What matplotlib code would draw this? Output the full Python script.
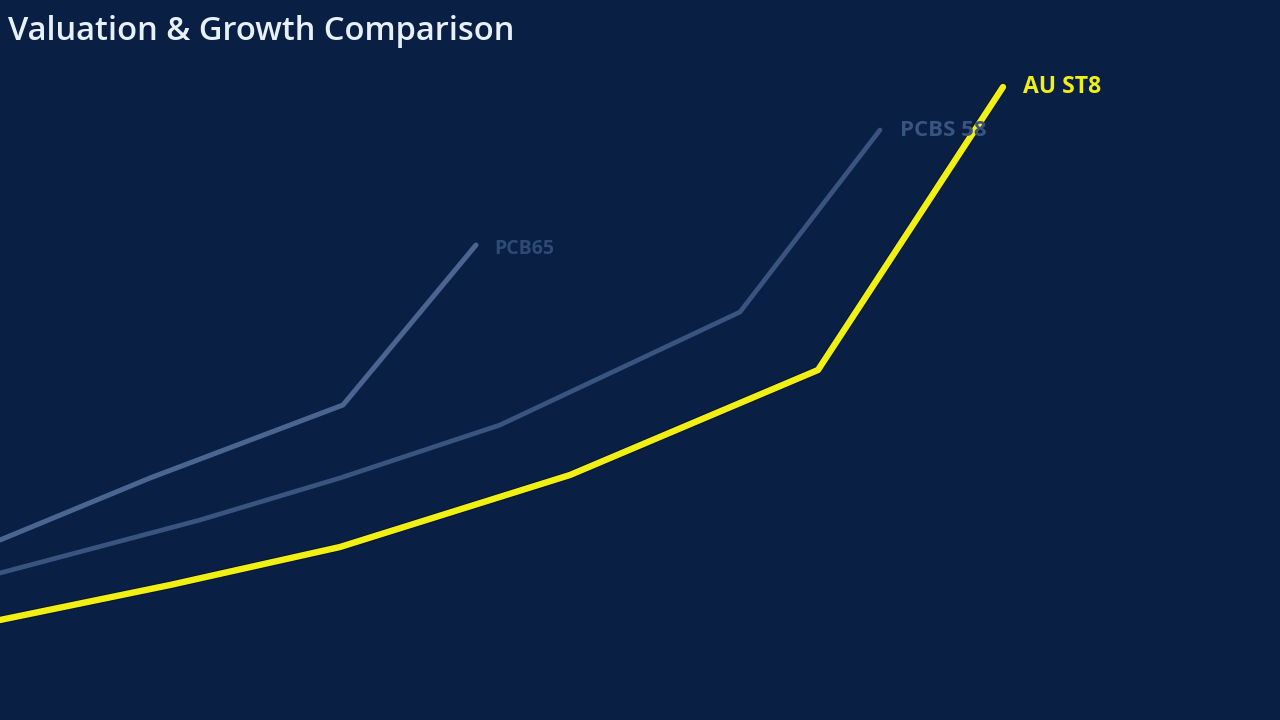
import matplotlib
matplotlib.use("Agg")
import matplotlib.pyplot as plt
import matplotlib.patheffects as pe

# Series data (x = period position, y = value)
au_x = [0, 170, 340, 570, 818, 1003]
au_y = [100, 135, 173, 245, 350, 633]
mid_x = [0, 200, 340, 500, 740, 880]
mid_y = [147, 200, 242, 295, 408, 590]
light_x = [0, 150, 343, 476]
light_y = [180, 242, 315, 475]

labels = ["AU ST8", "PCBS 58", "PCB65"]
title = "Valuation & Growth Comparison"

bg = "#0a1f44"
yellow = "#f0f014"
mid_c = "#3a5480"
light_c = "#4a6690"

fig = plt.figure(figsize=(12.8, 7.2), dpi=100)
fig.patch.set_facecolor(bg)
ax = fig.add_axes([0, 0, 1, 1])
ax.set_facecolor(bg)
ax.set_xlim(0, 1280)
ax.set_ylim(0, 720)
ax.axis("off")

ax.plot(light_x, light_y, color=light_c, lw=3.6, solid_capstyle="round", solid_joinstyle="round")
ax.plot(mid_x, mid_y, color=mid_c, lw=3.4, solid_capstyle="round", solid_joinstyle="round")
ax.plot(au_x, au_y, color=yellow, lw=4.6, solid_capstyle="round", solid_joinstyle="round",
        path_effects=[pe.Stroke(linewidth=5.8, foreground="#06122a"), pe.Normal()])

ax.text(au_x[-1] + 20, au_y[-1], labels[0], color=yellow, fontsize=16.5, fontweight="bold",
        family="Open Sans", va="center", ha="left")
ax.text(mid_x[-1] + 20, mid_y[-1], labels[1], color=mid_c, fontsize=16, fontweight="bold",
        family="Open Sans", va="center", ha="left")
ax.text(light_x[-1] + 18, light_y[-1] - 4, labels[2], color="#2f4a75", fontsize=14, fontweight="bold",
        family="Open Sans", va="center", ha="left")

fig.text(8 / 1280, 1 - 32 / 720, title, color="#e8f0fa", fontsize=23.5, fontweight="semibold",
         family="Open Sans", va="center", ha="left")

fig.savefig("out.png", dpi=100, facecolor=bg)
